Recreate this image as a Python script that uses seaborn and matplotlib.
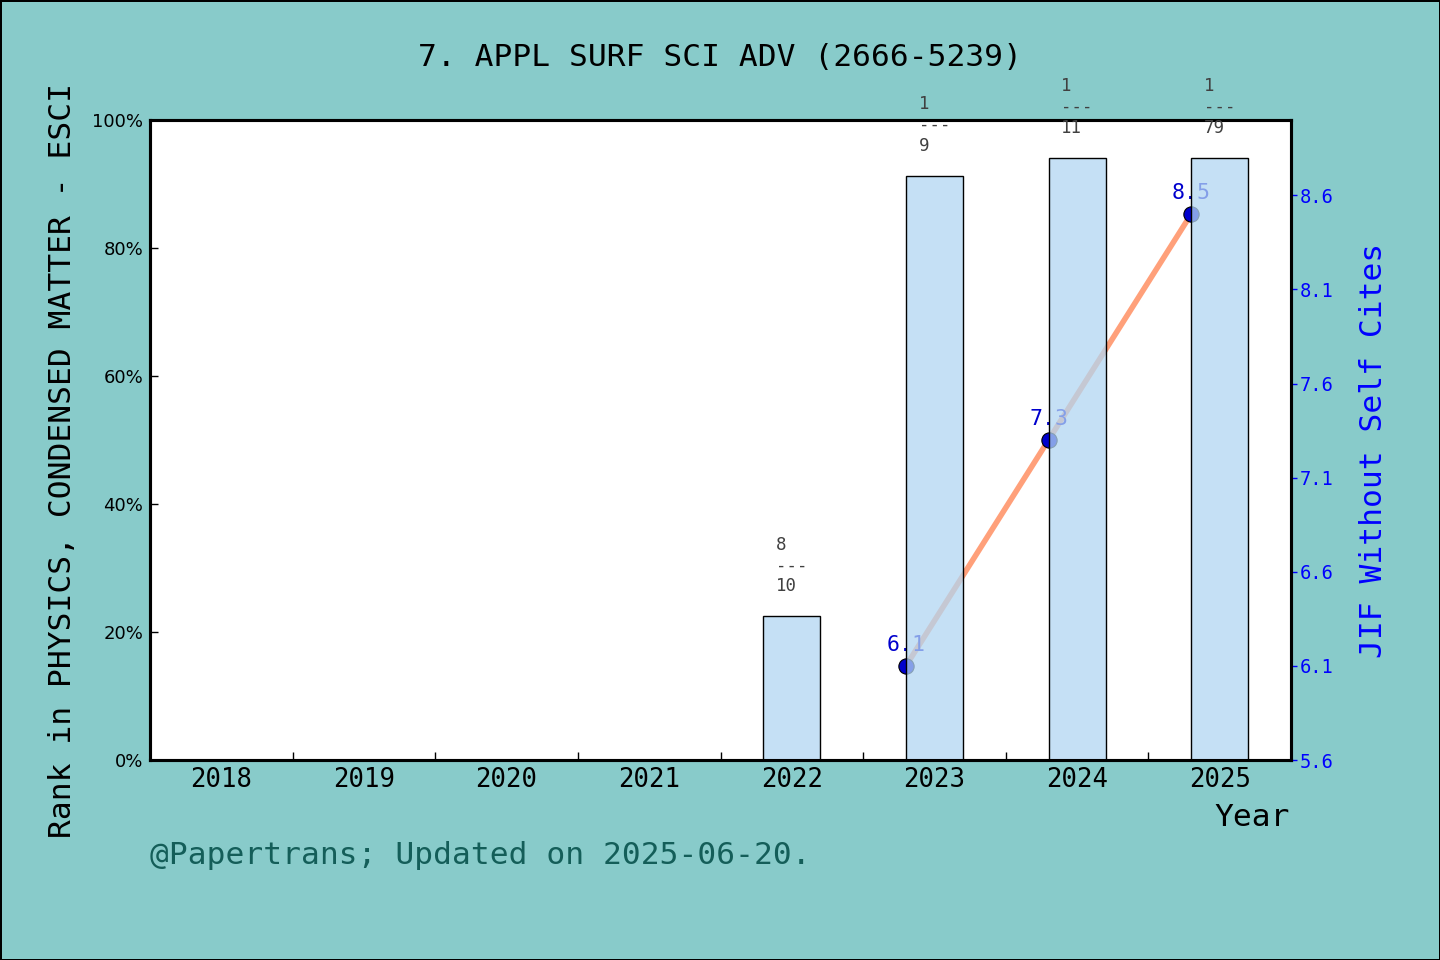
import pandas as pd
import matplotlib.pyplot as plt
import seaborn as sns
from matplotlib.ticker import PercentFormatter, FixedLocator

# データ
years = ['2018', '2019', '2020', '2021', '2022', '2023', '2024', '2025']
rank_years = ['2022', '2023', '2024', '2025']
rank_pct = [0.225, 0.913, 0.941, 0.941]
rank_labels = ['8\n---\n10', '1\n---\n9', '1\n---\n11', '1\n---\n79']
jif_years = ['2023', '2024', '2025']
jif_values = [6.1, 7.3, 8.5]
pct_ticks = [0, 0.2, 0.4, 0.6, 0.8, 1.0]
jif_ticks = [5.6, 6.1, 6.6, 7.1, 7.6, 8.1, 8.6]

title = '7. APPL SURF SCI ADV (2666-5239)'
left_label = 'Rank in PHYSICS, CONDENSED MATTER - ESCI'
right_label = 'JIF Without Self Cites'
footer = '@Papertrans; Updated on 2025-06-20.'

BG = '#88CBCA'
BAR = (178 / 255, 214 / 255, 242 / 255, 0.75)
MONO = 'DejaVu Sans Mono'

sns.set_theme(style='ticks')
plt.rcParams['font.family'] = [MONO, 'DejaVu Sans']

fig = plt.figure(figsize=(14.4, 9.6), dpi=100, facecolor=BG,
                 edgecolor='black', linewidth=2)
ax = fig.add_axes([150 / 1440, 1 - 760 / 960, 1141 / 1440, 640 / 960])
ax2 = ax.twinx()

# 棒グラフ（順位）
bars_df = pd.DataFrame({'year': rank_years, 'pct': rank_pct})
sns.barplot(data=bars_df, x='year', y='pct', order=years, ax=ax,
            width=0.4, errorbar=None, saturation=1)
for p in ax.patches:
    p.set_facecolor(BAR)
    p.set_edgecolor('black')
    p.set_linewidth(1)

for y, pct, lbl in zip(rank_years, rank_pct, rank_labels):
    ax.annotate(lbl, (years.index(y), pct), xytext=(0, 15),
                textcoords='offset points', ha='center', va='bottom',
                multialignment='left', fontsize=12.5, family=MONO,
                color='#404040', annotation_clip=False)

# 折れ線（JIF）
jif_x = [years.index(y) - 0.2 for y in jif_years]
sns.lineplot(x=jif_x, y=jif_values, ax=ax2, color='#FFA07A', lw=4,
             marker='o', markersize=11, markerfacecolor='#0000CD',
             markeredgecolor='black', markeredgewidth=0.8)
for x, v in zip(jif_x, jif_values):
    ax2.annotate(f'{v:.1f}', (x, v), xytext=(0, 8), textcoords='offset points',
                 ha='center', va='bottom', fontsize=15.5, family=MONO,
                 color='#0000CD')

# 棒を線の上に重ねる
ax.set_zorder(ax2.get_zorder() + 1)
ax.patch.set_visible(False)
ax2.patch.set_visible(True)
ax2.patch.set_facecolor('white')

# 軸の設定
ax.set_xlim(-0.5, len(years) - 0.5)
ax.set_ylim(0, 1)
ax.yaxis.set_major_locator(FixedLocator(pct_ticks))
ax.yaxis.set_major_formatter(PercentFormatter(1.0, decimals=0))
ax.xaxis.set_minor_locator(FixedLocator([i + 0.5 for i in range(len(years) - 1)]))
ax.set_xlabel('')
ax.set_ylabel('')
ax.tick_params(axis='x', which='major', length=0, labelsize=18.5, pad=5,
               labelcolor='black')
ax.tick_params(axis='x', which='minor', direction='in', length=6, width=1,
               color='black')
ax.tick_params(axis='y', direction='in', length=6, width=1, labelsize=13,
               pad=5, color='black', labelcolor='black')
for t in ax.get_xticklabels():
    t.set_family(MONO)
for t in ax.get_yticklabels():
    t.set_family('DejaVu Sans')

ax2.set_ylim(5.6, 9.0)
ax2.yaxis.set_major_locator(FixedLocator(jif_ticks))
ax2.set_ylabel('')
ax2.tick_params(axis='y', direction='out', length=4, width=1, labelsize=13.5,
                pad=2, color='blue', labelcolor='blue')
for t in ax2.get_yticklabels():
    t.set_family(MONO)

for a in (ax, ax2):
    for s in a.spines.values():
        s.set_visible(True)
        s.set_color('black')
        s.set_linewidth(2.2)

# テキスト
fig.text(0.5, 1 - 57 / 960, title, ha='center', va='center', fontsize=22.5,
         family=MONO, color='black')
fig.text(63 / 1440, 1 - 461 / 960, left_label, rotation=90, ha='center',
         va='center', fontsize=22.5, family=MONO, color='black')
fig.text(1373 / 1440, 1 - 450 / 960, right_label, rotation=90, ha='center',
         va='center', fontsize=22.5, family=MONO, color='blue')
fig.text(1290 / 1440, 1 - 817 / 960, 'Year', ha='right', va='center',
         fontsize=22.5, family=MONO, color='black')
fig.text(150 / 1440, 1 - 855 / 960, footer, ha='left', va='center',
         fontsize=22.5, family=MONO, color='#145E59')

fig.savefig('out.png', dpi=100, facecolor=BG, edgecolor='black')
